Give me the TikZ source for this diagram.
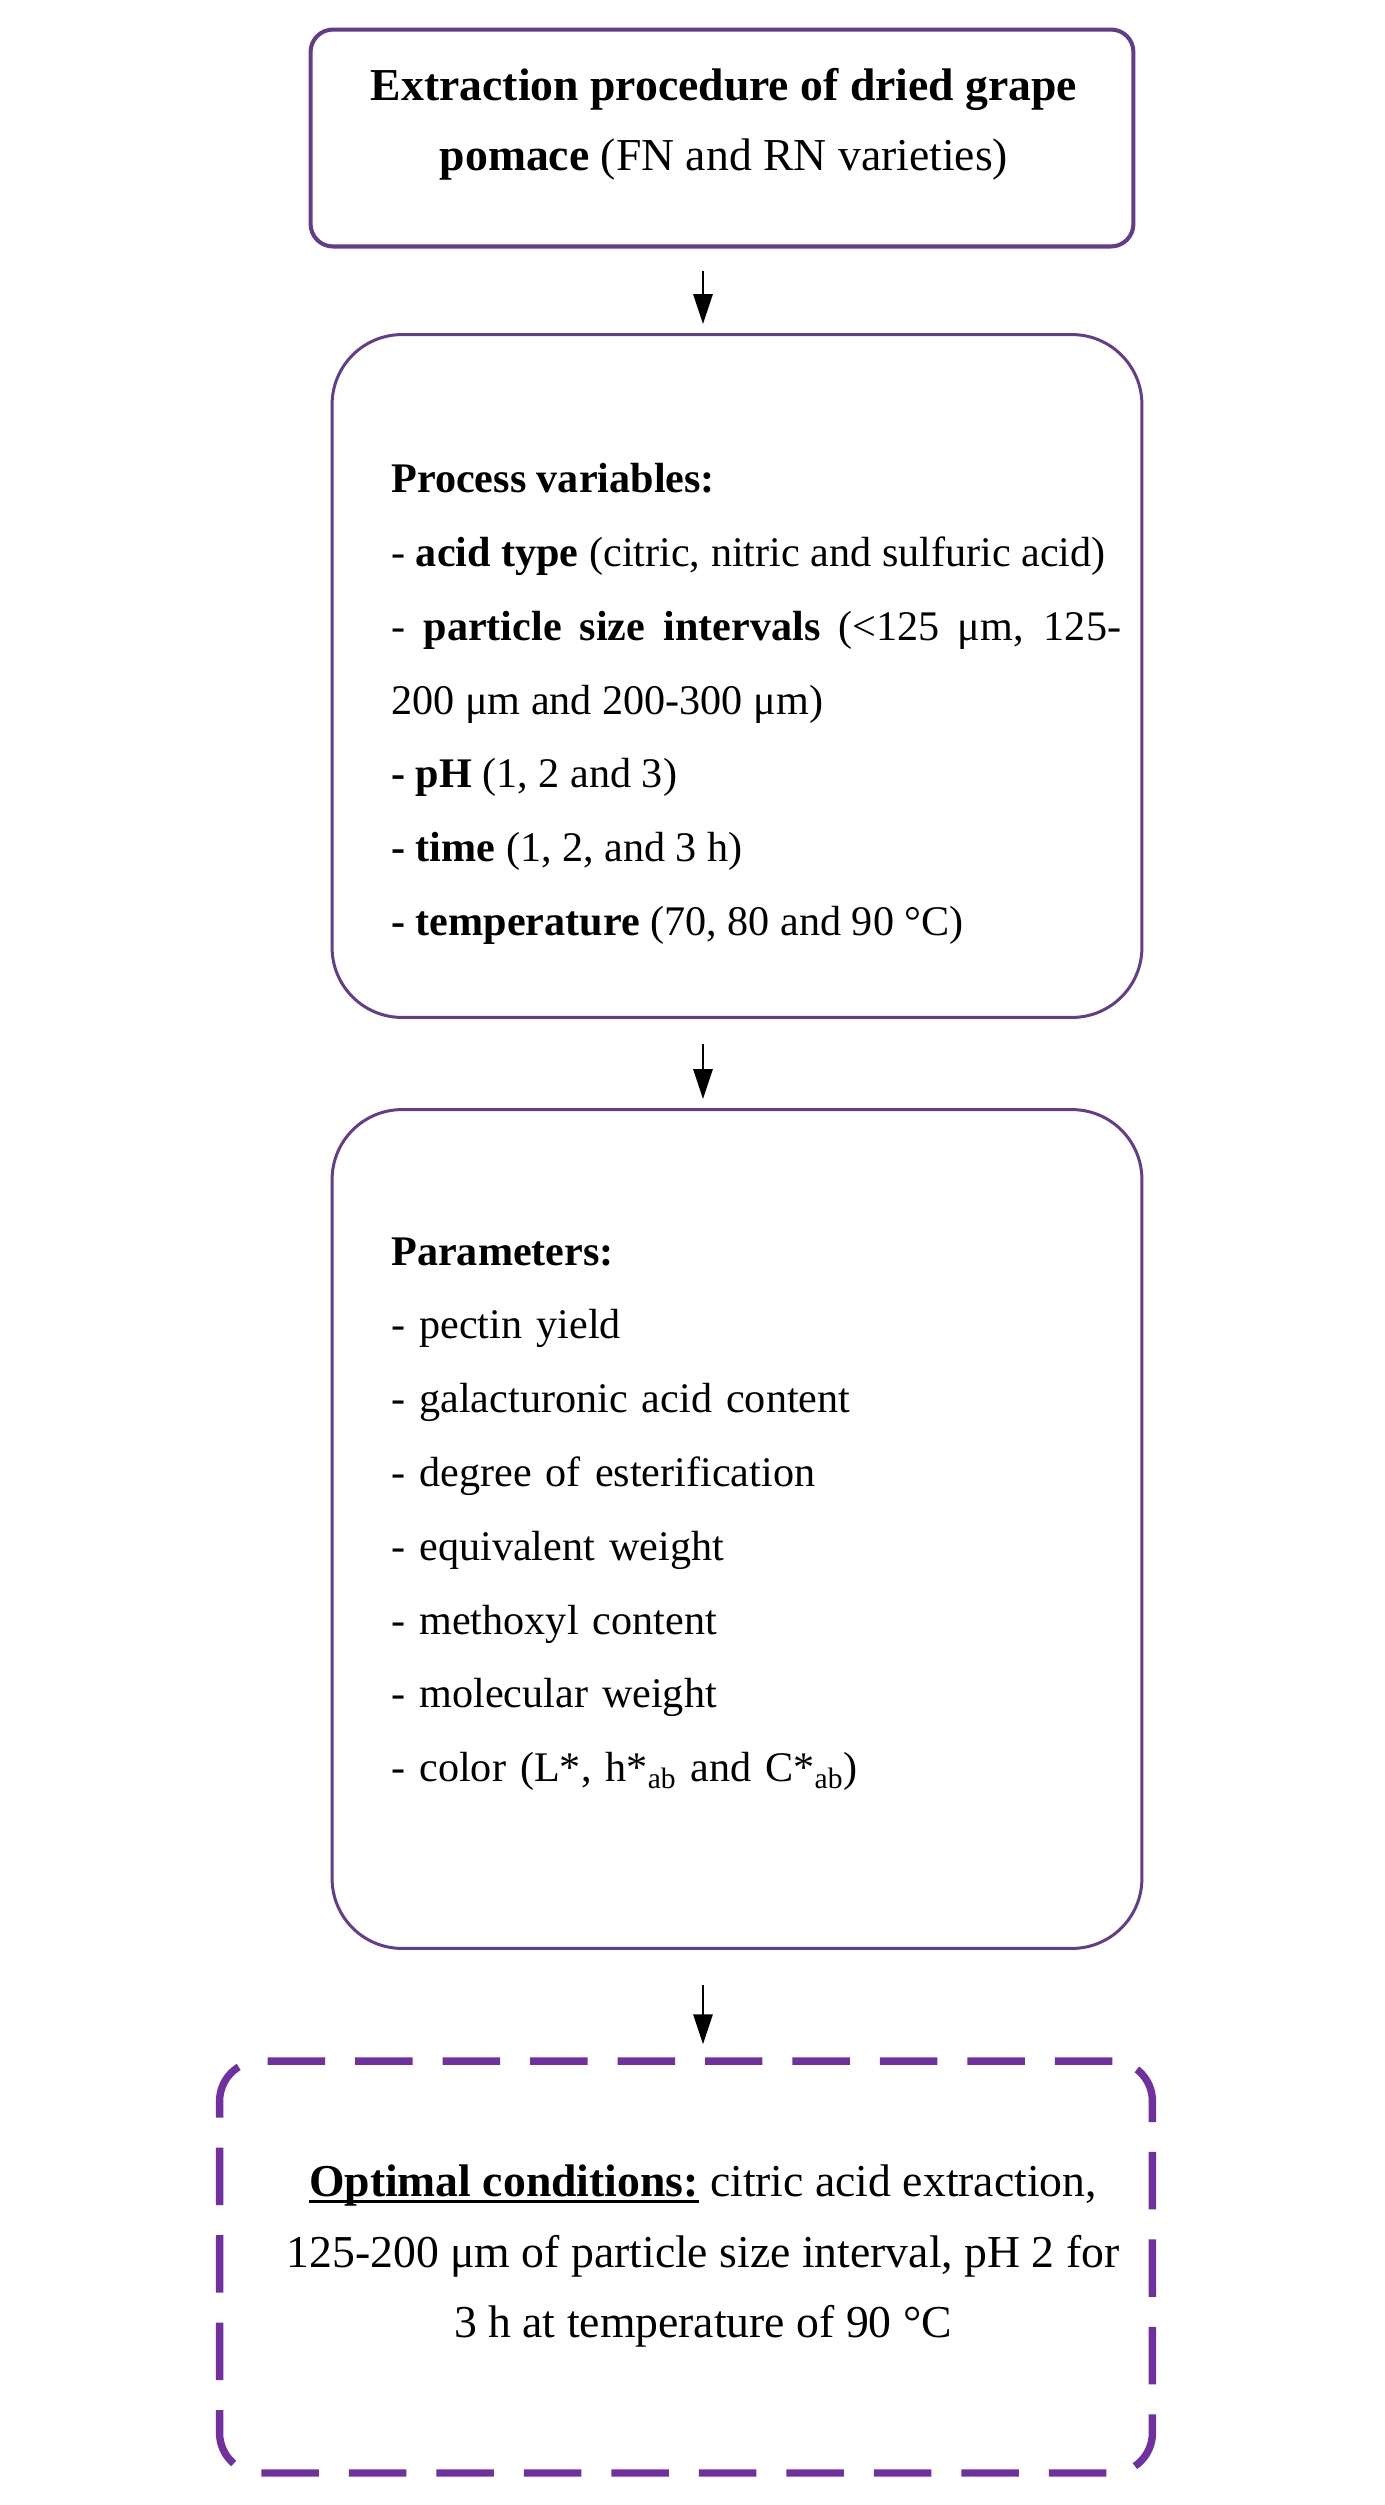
\documentclass[tikz,border=0pt]{standalone}
\usepackage{fontspec}
\setmainfont{Liberation Serif}
\usetikzlibrary{arrows.meta}
\setlength{\parindent}{0pt}

\definecolor{framepurple}{RGB}{100,60,140}
\definecolor{dashpurple}{RGB}{112,48,160}

% thick underline as in the source
\newcommand{\thickul}[1]{\setbox0\hbox{#1}\rlap{\raisebox{-0.14em}{\rule{\wd0}{0.07em}}}\box0\relax}

\tikzset{
  headbox/.style={rectangle, draw=framepurple, line width=2.3pt, rounded corners=0.45cm, inner sep=0pt},
  stagebox/.style={rectangle, draw=framepurple, line width=1.7pt, rounded corners=1.4cm, inner sep=0pt},
  resultbox/.style={rectangle, draw=dashpurple, line width=4.2pt, dash pattern=on 1.15cm off 0.6cm, rounded corners=0.8cm, inner sep=0pt},
  boxtext/.style={inner sep=0pt, font=\fontsize{24pt}{42pt}\selectfont},
  bigtext/.style={inner sep=0pt, font=\fontsize{26pt}{40pt}\selectfont},
  flowarrow/.style={-{Triangle[length=0.6cm,width=0.38cm]}, line width=1.6pt, shorten <=0.45cm, shorten >=0.18cm}
}

\begin{document}
\begin{tikzpicture}[x=0.02cm,y=-0.02cm]
  \useasboundingbox (0,0) rectangle (1385,2505);

  % the four boxes
  \node[headbox, minimum width=16.46cm, minimum height=4.34cm] (box1) at (722,138) {};
  \node[stagebox, minimum width=16.2cm, minimum height=13.66cm] (box2) at (737,676) {};
  \node[stagebox, minimum width=16.2cm, minimum height=16.78cm] (box3) at (737,1529) {};
  \node[resultbox, minimum width=18.66cm, minimum height=8.24cm] (box4) at (686,2267) {};

  % texts
  \node[bigtext, align=center] (txt1) at (724,124)
    {\textbf{Extraction procedure of dried grape}\\\textbf{pomace} (FN and RN varieties)};
  \node[boxtext, text width=14.6cm, align=justify, anchor=west] (txt2) at (391,704)
    {\textbf{Process variables:}\par
     - \textbf{acid type} (citric, nitric and sulfuric acid)\par
     - \textbf{particle size intervals} (<125 μm, 125-\linebreak 200 μm and 200-300 μm)\par
     \textbf{- pH} (1, 2 and 3)\par
     \textbf{- time} (1, 2, and 3 h)\par
     \textbf{- temperature} (70, 80 and 90 °C)};
  \node[boxtext, text width=14.6cm, align=left, anchor=west] (txt3) at (391,1514)
    {\textbf{Parameters:}\\
     - pectin yield\\
     - galacturonic acid content\\
     - degree of esterification\\
     - equivalent weight\\
     - methoxyl content\\
     - molecular weight\\
     - color (L*, h*\textsubscript{ab} and C*\textsubscript{ab})};
  \node[bigtext, align=center] (txt4) at (703,2256)
    {\thickul{\textbf{Optimal conditions:}} citric acid extraction,\\
     125-200 μm of particle size interval, pH 2 for\\
     3 h at temperature of 90 °C};

  % arrows
  \coordinate (arrx) at (703,0);
  \draw[flowarrow] (box1.south -| arrx) -- (box2.north -| arrx);
  \draw[flowarrow, shorten <=0.5cm] (box2.south -| arrx) -- (box3.north -| arrx);
  \draw[flowarrow, shorten <=0.7cm, shorten >=0.26cm] (box3.south -| arrx) -- (box4.north -| arrx);
\end{tikzpicture}
\end{document}
